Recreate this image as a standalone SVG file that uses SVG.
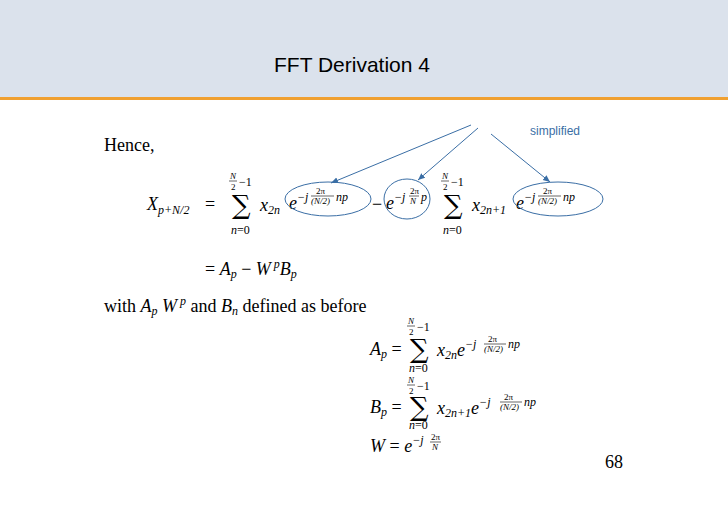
<svg xmlns="http://www.w3.org/2000/svg" width="728" height="514" viewBox="0 0 728 514">
<style>
.m{font-family:"Liberation Serif",serif;font-size:18px;fill:#000}
.i{font-style:italic}
.s{font-size:12px}
.t{font-size:9px}
.sig{font-family:"DejaVu Serif",serif;font-size:26px}
.fl{stroke:#000;stroke-width:0.6}
.ell{fill:none;stroke:#3a6ea5;stroke-width:1}
.con{stroke:#3a6ea5;stroke-width:1;fill:none;marker-end:url(#a)}
</style>
<defs><marker id="a" markerWidth="8" markerHeight="8" refX="7" refY="4" orient="auto" markerUnits="userSpaceOnUse"><path d="M0,1 L7,4 L0,7 Z" fill="#3a6ea5"/></marker></defs>
<rect width="728" height="514" fill="#fff"/>
<rect x="0" y="0" width="728" height="98" fill="#dbe2ec"/>
<rect x="0" y="97" width="728" height="3" fill="#f0a030"/>
<text x="352" y="72" text-anchor="middle" font-family="Liberation Sans,sans-serif" font-size="21">FFT Derivation 4</text>
<g id="hence"><text class="m" x="104" y="151">Hence,</text></g>
<g id="eq1">
<text class="m i" x="147" y="210">X<tspan class="s" dy="4">p+N/2</tspan></text>
<text class="m" x="205" y="210">=</text>
<text class="m i t" x="230" y="179">N</text><line class="fl" x1="229" y1="181" x2="237" y2="181"/><text class="m t" x="231" y="190">2</text><text class="m s" x="239" y="186">−1</text>
<text class="sig" x="232" y="214">∑</text>
<text class="m i s" x="231" y="234">n<tspan font-style="normal">=0</tspan></text>
<text class="m i" x="260" y="211">x<tspan class="s" dy="3">2n</tspan></text>
<text class="m i" x="289" y="209">e<tspan class="s" dy="-8">−j</tspan></text>
<text class="m t" x="316" y="194">2π</text><line class="fl" x1="311" y1="196" x2="334" y2="196"/><text class="m i t" x="311" y="204">(N/2)</text>
<text class="m i s" x="336" y="201">np</text>
<text class="m" x="372" y="210">−</text>
<text class="m i" x="386" y="209">e<tspan class="s" dy="-8">−j</tspan></text>
<text class="m t" x="410" y="194">2π</text><line class="fl" x1="409" y1="196" x2="419" y2="196"/><text class="m i t" x="410" y="204">N</text>
<text class="m i s" x="421" y="201">p</text>
<text class="m i t" x="442" y="179">N</text><line class="fl" x1="441" y1="181" x2="449" y2="181"/><text class="m t" x="443" y="190">2</text><text class="m s" x="451" y="186">−1</text>
<text class="sig" x="444" y="214">∑</text>
<text class="m i s" x="443" y="234">n<tspan font-style="normal">=0</tspan></text>
<text class="m i" x="472" y="211">x<tspan class="s" dy="3">2n+1</tspan></text>
<text class="m i" x="516" y="209">e<tspan class="s" dy="-8">−j</tspan></text>
<text class="m t" x="543" y="194">2π</text><line class="fl" x1="538" y1="196" x2="561" y2="196"/><text class="m i t" x="538" y="204">(N/2)</text>
<text class="m i s" x="563" y="201">np</text>
</g>
<g id="ellipses">
<ellipse class="ell" cx="328" cy="199" rx="43" ry="17"/>
<ellipse class="ell" cx="407" cy="199" rx="23" ry="20"/>
<ellipse class="ell" cx="558" cy="199" rx="45" ry="17"/>
</g>
<g id="connectors">
<line class="con" x1="471" y1="125" x2="331" y2="183"/>
<line class="con" x1="478" y1="128" x2="418" y2="180"/>
<line class="con" x1="491" y1="134" x2="550" y2="182"/>
</g>
<g id="simplified"><text x="530" y="135" font-family="Liberation Sans,sans-serif" font-size="12" fill="#3a6ea5">simplified</text></g>
<g id="eq2"><text class="m" x="205" y="275">= <tspan font-style="italic">A</tspan><tspan class="s i" dy="3">p</tspan><tspan dy="-3"> − </tspan><tspan font-style="italic">W</tspan><tspan class="s i" dy="-7"> p</tspan><tspan dy="7" font-style="italic">B</tspan><tspan class="s i" dy="3">p</tspan></text></g>
<g id="with"><text class="m" x="104" y="312">with <tspan font-style="italic">A</tspan><tspan class="s i" dy="3">p</tspan><tspan dy="-3" font-style="italic"> W</tspan><tspan class="s i" dy="-7"> p</tspan><tspan dy="7"> and </tspan><tspan font-style="italic">B</tspan><tspan class="s i" dy="3">n</tspan><tspan dy="-3"> defined as before</tspan></text></g>
<g id="Ap">
<text class="m i" x="370" y="355">A<tspan class="s" dy="3">p</tspan><tspan dy="-3" font-style="normal"> =</tspan></text>
<text class="m i t" x="408" y="324">N</text><line class="fl" x1="407" y1="326" x2="415" y2="326"/><text class="m t" x="409" y="335">2</text><text class="m s" x="417" y="331">−1</text>
<text class="sig" x="410" y="358">∑</text>
<text class="m i s" x="409" y="372">n<tspan font-style="normal">=0</tspan></text>
<text class="m i" x="437" y="356">x<tspan class="s" dy="3">2n</tspan><tspan dy="-3">e</tspan><tspan class="s" dy="-8">−j</tspan></text>
<text class="m t" x="488" y="342">2π</text><line class="fl" x1="484" y1="344" x2="506" y2="344"/><text class="m i t" x="484" y="352">(N/2)</text>
<text class="m i s" x="508" y="348">np</text>
</g>
<g id="Bp">
<text class="m i" x="370" y="413">B<tspan class="s" dy="3">p</tspan><tspan dy="-3" font-style="normal"> =</tspan></text>
<text class="m i t" x="408" y="383">N</text><line class="fl" x1="407" y1="385" x2="415" y2="385"/><text class="m t" x="409" y="394">2</text><text class="m s" x="417" y="390">−1</text>
<text class="sig" x="410" y="416">∑</text>
<text class="m i s" x="409" y="429">n<tspan font-style="normal">=0</tspan></text>
<text class="m i" x="437" y="414">x<tspan class="s" dy="3">2n+1</tspan><tspan dy="-3">e</tspan><tspan class="s" dy="-8">−j</tspan></text>
<text class="m t" x="504" y="400">2π</text><line class="fl" x1="500" y1="402" x2="522" y2="402"/><text class="m i t" x="500" y="410">(N/2)</text>
<text class="m i s" x="524" y="406">np</text>
</g>
<g id="W">
<text class="m i" x="370" y="452">W<tspan font-style="normal"> = </tspan>e<tspan class="s" dy="-8">−j</tspan></text>
<text class="m t" x="431" y="440">2π</text><line class="fl" x1="430" y1="442" x2="441" y2="442"/><text class="m i t" x="432" y="450">N</text>
</g>
<text class="m" x="605" y="468" font-size="11">68</text>
</svg>
